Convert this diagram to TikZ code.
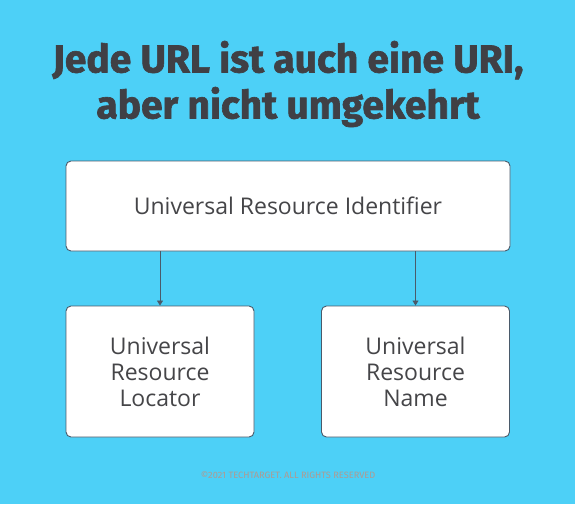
\documentclass[tikz,border=0pt]{standalone}
\usepackage{fontspec}
\setmainfont{Open Sans}
\newfontfamily\headfont[FakeBold=1.6]{Fira Sans Bold}
\newfontfamily\notefont{Fira Sans}
\usepackage{tikz}
\usetikzlibrary{arrows.meta,backgrounds}
\definecolor{skyback}{HTML}{4DD0F7}
\definecolor{titlegray}{HTML}{404045}
\definecolor{boxline}{HTML}{4A5A6A}
\definecolor{textgray}{HTML}{454548}
\definecolor{notegray}{HTML}{B09A90}
\tikzset{
  titletext/.style={ text=titlegray, font=\headfont\fontsize{39}{46}\selectfont, align=center }
}
\tikzset{
  topbox/.style={ draw=boxline, fill=white, rounded corners=5pt, line width=0.9pt,
    minimum width=444pt, minimum height=90pt, text=textgray,
    font=\fontsize{23}{26}\selectfont }
}
\tikzset{
  leafbox/.style={ draw=boxline, fill=white, rounded corners=5pt, line width=0.9pt,
    minimum width=188pt, minimum height=131pt, text=textgray, align=center,
    font=\fontsize{23}{26}\selectfont }
}
\tikzset{
  arr/.style={ draw=boxline, line width=0.8pt, -{Triangle[length=5pt,width=6pt]} }
}
\begin{document}
\begin{tikzpicture}[x=1pt, y=-1pt]
      \useasboundingbox[fill=skyback] (0, 0) rectangle (575, 504);
      \node[titletext] (title) at (288, 84) {Jede URL ist auch eine URI,\\aber nicht umgekehrt};

      \node[topbox] (uri) at (288, 206) {Universal Resource Identifier};
      \node[leafbox] (url) at (160, 371.5) {Universal\\Resource\\Locator};
      \node[leafbox] (urn) at (415.5, 371.5) {Universal\\Resource\\Name};

      \draw[arr] (uri.south -| url.north) -- (url.north);
      \draw[arr] (uri.south -| urn.north) -- (urn.north);

      \node[text=notegray, font=\notefont\fontsize{9.2}{11}\selectfont] (note) at (288, 475)
        {\textcopyright 2021 TECHTARGET. ALL RIGHTS RESERVED};
    \end{tikzpicture}
\end{document}
